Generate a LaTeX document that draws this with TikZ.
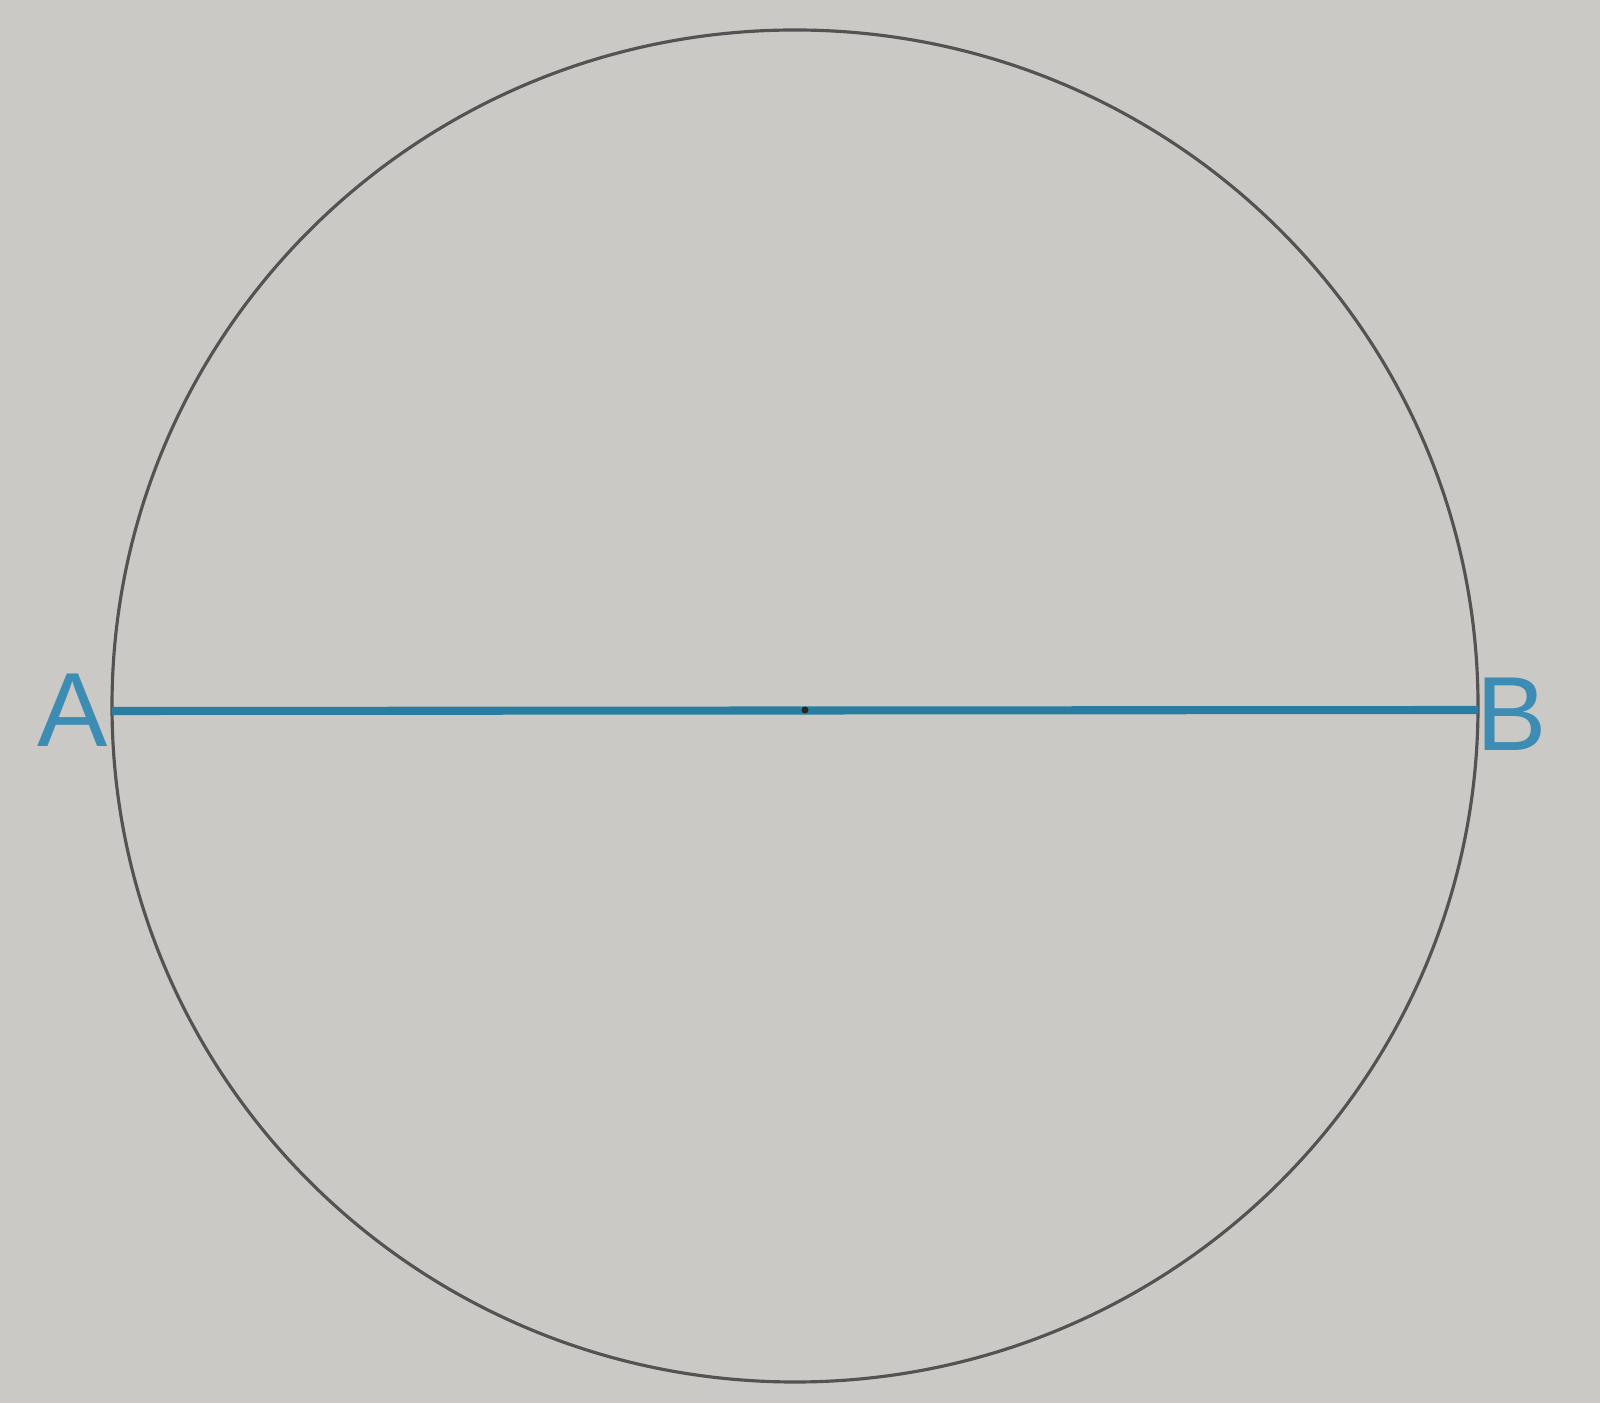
\documentclass[tikz,border=0pt]{standalone}
\usepackage{fontspec}
\setsansfont{Liberation Sans}
\definecolor{paper}{RGB}{202,201,198}
\definecolor{pencil}{RGB}{85,82,84}
\definecolor{penblue}{RGB}{40,125,160}
\definecolor{letterblue}{RGB}{60,140,180}
\tikzset{
  rim/.style={draw=pencil, line width=0.9pt},
  diam/.style={draw=penblue, line width=2.3pt},
  lbl/.style={text=letterblue, font=\sffamily\fontsize{30}{30}\selectfont, inner sep=0pt}
}
\begin{document}
\begin{tikzpicture}
\fill[paper] (0,0) rectangle (16,14.03);
\useasboundingbox (0,0) rectangle (16,14.03);
\coordinate (O) at (7.95,6.97);
\draw[rim] (O) ellipse [x radius=6.83, y radius=6.76];
\coordinate (pA) at (1.12,6.92);
\coordinate (pB) at (14.78,6.93);
\draw[diam] (pA) -- (pB);
\fill[black!85] (8.05,6.93) circle (0.035);
\node[lbl] (A) at (0.73,6.93) {A};
\node[lbl] (B) at (15.12,6.89) {B};
\end{tikzpicture}
\end{document}
